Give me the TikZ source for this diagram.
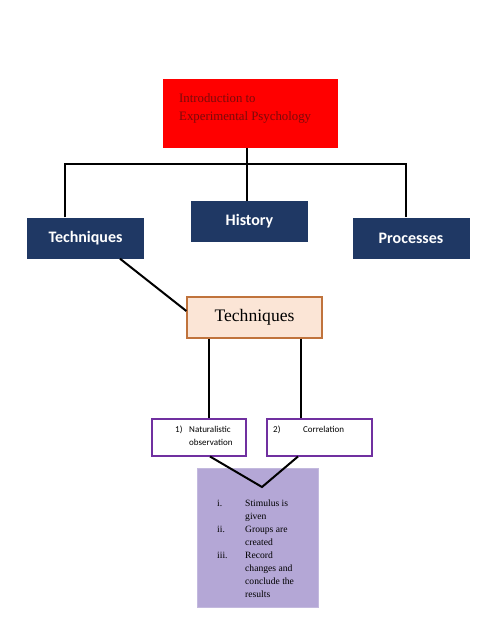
\documentclass[tikz,border=0pt]{standalone}
\usepackage{fontspec}
\setmainfont{Liberation Serif}
\newfontfamily\calibri{Carlito}
\usetikzlibrary{calc}
\definecolor{navy}{HTML}{1F3864}
\definecolor{purp}{HTML}{7030A0}
\definecolor{beigefill}{HTML}{FBE5D6}
\definecolor{beigeline}{HTML}{C0733C}
\definecolor{lilac}{HTML}{B4A7D6}
\definecolor{lilacline}{HTML}{C3B9DE}
\definecolor{maroon}{HTML}{7A0A0A}
\tikzset{
  navybox/.style={fill=navy, draw=none, minimum width=117pt, minimum height=41pt, inner sep=0pt,
    text=white, font=\calibri\bfseries\fontsize{16}{19}\selectfont},
  purpbox/.style={draw=purp, line width=2pt, fill=white, minimum height=37pt, inner sep=0pt},
  conn/.style={line width=2.3pt, black},
  thinconn/.style={line width=2pt, black},
  smalltxt/.style={inner sep=0pt, align=left, font=\calibri\fontsize{9}{13}\selectfont},
}
\begin{document}
\begin{tikzpicture}[x=1pt,y=-1pt]
\useasboundingbox (0,0) rectangle (495,640);
% top box
\node[fill=red, minimum width=175pt, minimum height=69pt, inner sep=0pt] (intro) at (250.5,113.5) {};
\node[anchor=base west, inner sep=0pt, align=left, text=maroon, font=\fontsize{12.8}{17.5}\selectfont] (introtxt) at (179,120) {Introduction to\\Experimental Psychology};
% level 2
\node[navybox] (tech) at (85.5,238) {Techniques};
\node[navybox] (hist) at (249.5,221.5) {History};
\node[navybox] (proc) at (411,238) {Processes};
% bus coordinates
\coordinate (busL) at (65,164);
\coordinate (busC) at (247,164);
\coordinate (busR) at (406,164);
\draw[conn] (tech.north -| busL) -- (busL) -- (busR) -- (proc.north -| busR);
\draw[conn] (intro.south -| busC) -- (hist.north -| busC);
% beige box
\node[fill=beigefill, draw=beigeline, line width=1.3pt, minimum width=135pt, minimum height=41pt, inner sep=0pt,
  font=\fontsize{17.6}{20}\selectfont] (tech2) at (254.5,317.5) {Techniques};
\draw[thinconn] ($(tech.south)+(34.5,0)$) -- ($(tech2.west)+(0,-6.5)$);
% purple boxes
\node[purpbox, minimum width=94pt] (nat) at (199,437) {};
\node[purpbox, minimum width=105pt] (cor) at (319.5,437) {};
\node[smalltxt, anchor=base west] (nattxt) at (175,445) {\makebox[14pt][l]{1)}Naturalistic\\\hspace*{14pt}observation};
\node[smalltxt, anchor=base west] (cortxt) at (273,432) {\makebox[30pt][l]{2)}Correlation};
\draw[thinconn] ($(tech2.south west)+(23,0)$) coordinate (v1) -- (v1 |- nat.north);
\draw[thinconn] ($(tech2.south west)+(115,0)$) coordinate (v2) -- (v2 |- cor.north);
% lilac box
\node[fill=lilac, draw=lilacline, line width=0.8pt, minimum width=121pt, minimum height=139pt, inner sep=0pt] (list) at (257.5,537.5) {};
\node[anchor=base west, inner sep=0pt, align=left, font=\fontsize{9.6}{13}\selectfont] (listtxt) at (217,597)
 {\makebox[28pt][l]{i.}Stimulus is\\\hspace*{28pt}given\\
  \makebox[28pt][l]{ii.}Groups are\\\hspace*{28pt}created\\
  \makebox[28pt][l]{iii.}Record\\\hspace*{28pt}changes and\\\hspace*{28pt}conclude the\\\hspace*{28pt}results};
\coordinate (vtip) at (262,487);
\draw[thinconn] ($(nat.south)+(11,0)$) -- (vtip) -- ($(cor.south)+(-21.5,0)$);
\end{tikzpicture}
\end{document}
